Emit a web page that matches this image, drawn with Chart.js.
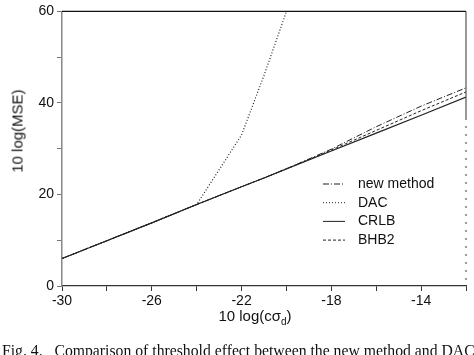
<!DOCTYPE html>
<html><head><meta charset="utf-8">
<script src="https://cdn.jsdelivr.net/npm/chart.js@4.4.0/dist/chart.umd.min.js"></script>
<style>
body{margin:0;background:#fff;}
#wrap{position:relative;width:474px;height:355px;overflow:hidden;background:#fff;}
#c{position:absolute;left:0;top:0;}
.t{position:absolute;font-family:"Liberation Sans",Arial,sans-serif;color:#111;white-space:nowrap;}
#xt{left:0;width:510px;text-align:center;top:307px;font-size:15px;}
#yt{left:17px;top:131px;font-size:15px;transform:translate(-50%,-50%) rotate(-90deg);}
#cap{left:2px;top:341px;font-family:"Liberation Serif","Times New Roman",serif;font-size:17px;transform-origin:0 0;transform:scaleX(0.925);}
</style></head><body>
<div id="wrap">
<canvas id="c" width="474" height="355"></canvas>
<div class="t" id="xt">10 log(cσ<sub style="font-size:10px">d</sub>)</div>
<div class="t" id="yt">10 log(MSE)</div>
<div class="t" id="cap">Fig. 4.&nbsp;&nbsp; Comparison of threshold effect between the new method and DAC</div>
</div>
<script>
const xValues = [-30, -28, -26, -24, -22, -21, -20, -18, -16, -14, -12];
const crlb      = [6, 9.9, 13.8, 17.8, 21.7, 23.6, 25.6, 29.5, 33.4, 37.3, 41.3];
const newMethod = [6, 9.9, 13.8, 17.8, 21.7, 23.6, 25.6, 29.9, 34.8, 39.3, 43.3];
const dac       = [6, 9.9, 13.8, 17.8, 33.0, 46.0, 60, 60, 60, 60, 60];
const bhb2      = [6, 9.9, 13.8, 17.8, 21.7, 23.6, 25.6, 29.7, 34.0, 38.3, 42.4];
const xTickValues = [-30, -28, -26, -24, -22, -20, -18, -16, -14, -12];
const xTickLabels = [-30, -26, -22, -18, -14];
const yTickLabels = [0, 20, 40, 60];

const pts = arr => arr.map((v,i)=>({x:xValues[i], y:v}));
const ink = '#222';

const legendPlugin = {
  id:'legendBox',
  afterDraw(chart){
    const ctx = chart.ctx;
    ctx.save();
    const a = chart.chartArea;
    ctx.strokeStyle = '#111'; ctx.lineWidth = 1.3; ctx.setLineDash([]);
    ctx.beginPath(); ctx.moveTo(a.left, a.top); ctx.lineTo(a.right, a.top); ctx.stroke();
    ctx.strokeStyle = '#333'; ctx.lineWidth = 1;
    ctx.beginPath(); ctx.moveTo(a.right, a.top); ctx.lineTo(a.right, 118); ctx.stroke();
    ctx.setLineDash([2,6]);
    ctx.beginPath(); ctx.moveTo(a.right, 118); ctx.lineTo(a.right, a.bottom); ctx.stroke();
    const order = [1,2,0,3];
    ctx.font = '14px "Liberation Sans", Arial, sans-serif';
    ctx.textBaseline = 'middle';
    order.forEach((di,k)=>{
      const ds = chart.data.datasets[di];
      const y = 184 + k*18.7;
      ctx.strokeStyle = ink; ctx.lineWidth = 1;
      ctx.setLineDash(ds.borderDash||[]);
      ctx.beginPath(); ctx.moveTo(323, y); ctx.lineTo(345, y); ctx.stroke();
      ctx.setLineDash([]);
      ctx.fillStyle = '#111';
      ctx.fillText(ds.label, 358, y);
    });
    ctx.restore();
  }
};

new Chart(document.getElementById('c'), {
  type:'line',
  data:{datasets:[
    {label:'CRLB', data:pts(crlb), borderColor:ink, borderWidth:1.2, borderDash:[], pointRadius:0, tension:0},
    {label:'new method', data:pts(newMethod), borderColor:ink, borderWidth:1, borderDash:[6,2,1,2], pointRadius:0, tension:0},
    {label:'DAC', data:pts(dac), borderColor:ink, borderWidth:1.2, borderDash:[1,2], pointRadius:0, tension:0},
    {label:'BHB2', data:pts(bhb2), borderColor:ink, borderWidth:1, borderDash:[3,2], pointRadius:0, tension:0}
  ]},
  options:{
    responsive:false, animation:false, devicePixelRatio:1,
    layout:{padding:{top:6, right:8, left:0, bottom:0}},
    plugins:{legend:{display:false}, tooltip:{enabled:false}},
    scales:{
      x:{type:'linear', min:-30, max:-12,
        afterFit(s){ s.height = 69; },
        afterBuildTicks(s){ s.ticks = xTickValues.map(v=>({value:v})); },
        ticks:{color:'#111', font:{family:'"Liberation Sans", Arial, sans-serif', size:14}, maxRotation:0, autoSkip:false, padding:2,
          callback:v=> xTickLabels.includes(v) ? String(v) : ''},
        grid:{drawOnChartArea:false, drawTicks:true, tickLength:5, color:'#333'},
        border:{color:'#333', width:1.3}
      },
      y:{min:0, max:60,
        afterFit(s){ s.width = 62; },
        ticks:{stepSize:10, color:'#111', font:{family:'"Liberation Sans", Arial, sans-serif', size:14}, padding:3,
          callback:v=> yTickLabels.includes(v) ? String(v) : ''},
        grid:{drawOnChartArea:false, drawTicks:true, tickLength:5, color:'#777'},
        border:{color:'#888', width:1.5}
      }
    }
  },
  plugins:[legendPlugin]
});
</script>
</body></html>
